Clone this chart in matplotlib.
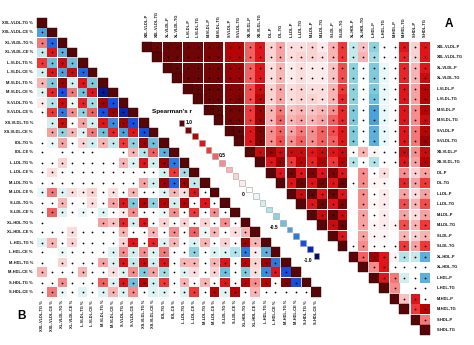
import numpy as np
import matplotlib
matplotlib.use("Agg")
import matplotlib.pyplot as plt
from matplotlib.colors import LinearSegmentedColormap, Normalize
from matplotlib.patches import Rectangle

plt.rcParams["font.family"] = ["Liberation Sans", "DejaVu Sans"]

# panel A: particle concentrations and TG content (upper triangle)
labels_a = [
    "XXL-VLDL-P", "XXL-VLDL-TG", "XL-VLDL-P", "XL-VLDL-TG", "L-VLDL-P", "L-VLDL-TG",
    "M-VLDL-P", "M-VLDL-TG", "S-VLDL-P", "S-VLDL-TG", "XS-VLDL-P", "XS-VLDL-TG",
    "IDL-P", "IDL-TG", "L-LDL-P", "L-LDL-TG", "M-LDL-P", "M-LDL-TG",
    "S-LDL-P", "S-LDL-TG", "XL-HDL-P", "XL-HDL-TG", "L-HDL-P", "L-HDL-TG",
    "M-HDL-P", "M-HDL-TG", "S-HDL-P", "S-HDL-TG",
]

# panel B: relative TG / CE content (lower triangle)
labels_b = [
    "XXL-VLDL-TG %", "XXL-VLDL-CE %", "XL-VLDL-TG %", "XL-VLDL-CE %",
    "L-VLDL-TG %", "L-VLDL-CE %", "M-VLDL-TG %", "M-VLDL-CE %",
    "S-VLDL-TG %", "S-VLDL-CE %", "XS-VLDL-TG %", "XS-VLDL-CE %",
    "IDL-TG %", "IDL-CE %", "L-LDL-TG %", "L-LDL-CE %", "M-LDL-TG %", "M-LDL-CE %",
    "S-LDL-TG %", "S-LDL-CE %", "XL-HDL-TG %", "XL-HDL-CE %", "L-HDL-TG %", "L-HDL-CE %",
    "M-HDL-TG %", "M-HDL-CE %", "S-HDL-TG %", "S-HDL-CE %",
]

# row i holds r for columns i+1 .. 27 ; None = blank cell without marker
rows_a = [
    [0.95, 0.95, 0.95, 0.93, 0.93, 0.9, 0.9, 0.8, 0.8, 0.5, 0.7,
     0.2, 0.35, 0.15, 0.15, 0.2, 0.1, 0.3, 0.6, -0.25, 0.25, -0.4, 0, 0, 0.7, 0.2, 0.7],
    [0.95, 0.95, 0.93, 0.93, 0.9, 0.9, 0.8, 0.8, 0.5, 0.7,
     0.2, 0.35, 0.15, 0.2, 0.2, 0.15, 0.3, 0.6, -0.25, 0.3, -0.35, 0, 0, 0.65, 0.2, 0.7],
    [0.97, 0.95, 0.95, 0.92, 0.92, 0.85, 0.85, 0.5, 0.7,
     0.15, 0.3, 0.1, 0.15, 0.1, 0.1, 0.25, 0.55, -0.4, 0, -0.45, -0.1, 0, 0.65, 0.3, 0.7],
    [0.95, 0.95, 0.92, 0.92, 0.85, 0.85, 0.5, 0.7,
     0.15, 0.3, 0.1, 0.15, 0.1, 0.1, 0.25, 0.55, -0.4, 0, -0.45, -0.1, 0, 0.65, 0.3, 0.75],
    [0.97, 0.95, 0.95, 0.88, 0.88, 0.55, 0.75,
     0.2, 0.35, 0.15, 0.2, 0.15, 0.15, 0.3, 0.6, -0.4, 0, -0.45, -0.1, 0, 0.7, 0.35, 0.8],
    [0.95, 0.95, 0.88, 0.9, 0.55, 0.8,
     0.2, 0.35, 0.15, 0.2, 0.2, 0.15, 0.3, 0.65, -0.4, 0, -0.5, -0.1, 0, 0.7, 0.35, 0.8],
    [0.97, 0.92, 0.92, 0.6, 0.85,
     0.3, 0.45, 0.25, 0.3, 0.25, 0.3, 0.4, 0.65, -0.45, 0, -0.6, -0.1, 0, 0.7, 0.4, 0.8],
    [0.92, 0.92, 0.6, 0.85,
     0.3, 0.5, 0.3, 0.35, 0.3, 0.35, 0.5, 0.65, -0.45, 0, -0.6, -0.1, 0, 0.7, 0.4, 0.75],
    [0.97, 0.7, 0.9,
     0.4, 0.5, 0.35, 0.45, 0.4, 0.5, 0.55, 0.7, -0.45, 0, -0.55, -0.1, 0, 0.7, 0.45, 0.8],
    [0.7, 0.9,
     0.4, 0.55, 0.4, 0.5, 0.4, 0.5, 0.5, 0.7, -0.45, 0, -0.55, -0.1, 0, 0.7, 0.45, 0.85],
    [0.75,
     0.85, 0.75, 0.75, 0.75, 0.7, 0.75, 0.7, 0.75, 0, 0.3, 0.05, 0, 0, 0.75, 0.4, 0.75],
    [0.7, 0.85, 0.6, 0.8, 0.65, 0.8, 0.6, 0.8, -0.3, 0, -0.3, 0, 0, 0.7, 0.35, 0.8],
    [0.7, 0.92, 0.7, 0.9, 0.7, 0.9, 0.7, None, 0.4, 0, 0.15, None, 0.4, 0.2, 0.35],
    [0.7, 0.95, 0.7, 0.92, 0.7, 0.95, 0, 0.4, 0.05, 0.05, None, 0.65, 0.35, 0.6],
    [0.75, 0.97, 0.7, 0.95, 0.7, None, 0.4, 0, 0.1, None, 0.35, 0.15, 0.35],
    [0.7, 0.95, 0.7, 0.9, None, 0.4, 0.05, 0.1, None, 0.55, 0.3, 0.55],
    [0.75, 0.97, 0.75, None, 0.35, 0, 0.1, None, 0.35, 0.15, 0.35],
    [0.75, 0.95, None, 0.35, 0.05, 0.1, 0.05, 0.55, 0.3, 0.6],
    [0.7, None, 0.35, 0.05, 0.05, None, 0.3, 0.2, 0.3],
    [0, 0.4, 0, 0, 0, 0.6, 0.35, 0.6],
    [0.5, 0.85, 0.7, 0.05, -0.3, -0.25, -0.55],
    [0.4, 0.7, 0, 0, 0, 0],
    [0.7, 0.45, -0.2, 0, -0.55],
    [0.4, None, 0, 0],
    [0.25, 0.7, 0],
    [0.6, 0.8],
    [0.45],
    [],
]

# row i holds r for columns 0 .. i-1
rows_b = [
    [],
    [-0.6],
    [0.45, -0.75],
    [-0.25, 0.7, -0.55],
    [0.6, -0.5, 0.75, -0.5],
    [-0.2, 0.7, -0.6, 0.75, -0.75],
    [0.3, -0.45, 0.85, -0.2, 0.7, -0.45],
    [-0.15, 0.65, -0.8, 0.45, -0.5, 0.7, -0.95],
    [0.1, -0.3, 0.75, -0.1, 0.65, -0.35, 0.85, -0.8],
    [0, 0.6, -0.7, 0.4, -0.4, 0.5, -0.8, 0.85, -0.9],
    [None, -0.2, 0.75, 0, 0.35, -0.2, 0.7, -0.65, 0.85, -0.8],
    [None, 0.35, -0.4, 0.3, -0.15, 0.45, -0.5, 0.65, -0.6, 0.7, -0.8],
    [0, -0.1, 0.35, 0, 0.2, -0.2, 0.3, -0.25, 0.6, -0.4, 0.85, -0.5],
    [0, None, 0, 0, 0, 0, None, None, 0, 0.3, -0.3, 0.5, -0.55],
    [0, 0, 0.2, 0, 0, 0, 0, 0, 0.3, -0.15, 0.7, -0.2, 0.85, -0.7],
    [0, 0.15, 0, 0, 0, 0, 0, 0, 0, 0, 0, 0, -0.2, 0.6, -0.35],
    [0, 0, 0, 0, 0, 0, 0, 0, 0, 0, 0.35, -0.2, 0.85, -0.75, 0.85, -0.25],
    [-0.1, 0.45, -0.15, 0.15, 0.1, 0.2, 0, 0.15, 0, 0.3, 0, 0, -0.15, 0.3, 0.15, 0.7, 0],
    [0, 0, 0.3, 0, 0, 0.15, 0, 0.35, 0.7, -0.45, 0.8, -0.4, 0.8, -0.2, 0.8, 0, 0.7, 0],
    [0, 0.5, -0.15, 0, -0.1, 0, -0.15, 0, 0.1, 0.4, 0, 0, -0.1, 0.4, 0, 0.6, 0, 0.4, 0],
    [0, None, None, None, None, None, 0.35, 0.25, 0.65, -0.2, 0.7, 0, 0.2, 0, 0.2, 0,
     0.2, 0, 0.4, 0],
    [0, 0, 0, 0.15, 0, 0, 0, 0, 0.3, 0, 0, 0.3, 0, 0.4, 0, 0.5, -0.1, 0.3, 0, 0.15, 0.3],
    [-0.15, 0.3, 0, 0.2, 0, 0, 0, 0, 0.2, 0.7, 0, 0.65, -0.15, 0.3, 0, -0.15, 0.3, 0,
     0.2, 0, 0.85, 0.3],
    [0, None, -0.1, 0, 0, 0, 0, -0.15, 0.4, -0.2, 0.4, -0.15, 0.45, 0, 0, -0.4, 0,
     -0.15, -0.15, -0.3, -0.7, 0.1, -0.55],
    [0, None, 0.2, 0, 0, 0, 0.35, -0.15, 0.7, -0.25, 0.75, -0.2, 0.7, 0, 0.3, 0.3, 0,
     0.3, 0.7, 0, 0.8, 0.2, 0.85, -0.7],
    [0.3, 0, 0, 0, 0.3, 0, 0, 0.15, -0.15, 0.4, -0.45, 0.35, -0.35, 0, -0.15, 0.15, 0,
     0.2, -0.5, 0, -0.45, 0.15, -0.65, 0.7, -0.8],
    [0, 0, 0.4, 0, 0, 0, 0.5, -0.15, 0.7, -0.5, 0.8, -0.2, 0.6, 0, 0.3, 0, 0.3, 0,
     0.7, 0, 0.8, 0.4, 0.8, 0, 0.9, -0.8],
    [0, 0.45, -0.1, 0, -0.15, 0, -0.15, 0.3, -0.15, 0.4, 0, -0.15, -0.15, 0, -0.15,
     0.6, 0, 0.8, -0.15, 0.8, 0, 0.3, 0, 0, 0, 0, 0],
]

legend_values = [1.0, 0.9, 0.8, 0.7, 0.6, 0.5, 0.4, 0.3, 0.2, 0.1, 0.0,
                 -0.1, -0.2, -0.3, -0.4, -0.5, -0.6, -0.7, -0.8, -0.9, -1.0]
legend_labels = {1.0: "1.0", 0.5: "0.5", 0.0: "0", -0.5: "-0.5", -1.0: "-1.0"}

colors = ["#00106a", "#0a28b8", "#1652e0", "#2b7be0", "#4aa2dc", "#6ec0dc",
          "#90d3df", "#b3e3e8", "#d2eff0", "#eaf7f7", "#ffffff",
          "#fdeaea", "#fbd2d2", "#f8b4b4", "#f58f8f", "#f26464", "#f03838",
          "#e0151a", "#b80505", "#7e0404", "#560606"]
cmap = LinearSegmentedColormap.from_list("spearman", colors)
norm = Normalize(-1, 1)


def centers(n, first, cell, gap):
    return [first + k * cell + (k // 2) * gap for k in range(n)]


def draw_cell(ax, x, y, w, h, v, diag=False):
    ax.add_patch(Rectangle((x - w / 2, y - h / 2), w + 0.15, h + 0.15,
                           fc=cmap(norm(v)), ec="#2a0000" if diag else "none",
                           lw=0.3))


fig = plt.figure(figsize=(4.74, 3.45), dpi=100)
ax = fig.add_axes([0, 0, 1, 1])
ax.set_xlim(0, 474)
ax.set_ylim(345, 0)
ax.axis("off")

lab_kw = dict(fontsize=2.9, fontweight="bold", color="#111111")

# ---- panel A ----
cwa, cha = 9.57, 9.76
xa = centers(28, 147, cwa, 1.5)
ya = centers(28, 47, cha, 1.5)
dots = []
for i, row in enumerate(rows_a):
    draw_cell(ax, xa[i], ya[i], cwa, cha, 1.0, diag=True)
    for k, v in enumerate(row):
        j = i + 1 + k
        if v is None:
            continue
        draw_cell(ax, xa[j], ya[i], cwa, cha, v)
        dots.append((xa[j], ya[i]))
for i, lab in enumerate(labels_a):
    ax.text(437, ya[i], lab, ha="left", va="center", **lab_kw)
    ax.text(xa[i], 37, lab, ha="center", va="bottom", rotation=90, **lab_kw)

# ---- panel B ----
cwb, chb = 9.57, 9.39
xb = centers(28, 42, cwb, 1.2)
yb = centers(28, 23, chb, 1.2)
for i, row in enumerate(rows_b):
    draw_cell(ax, xb[i], yb[i], cwb, chb, 1.0, diag=True)
    for j, v in enumerate(row):
        if v is None:
            continue
        draw_cell(ax, xb[j], yb[i], cwb, chb, v)
        dots.append((xb[j], yb[i]))
for i, lab in enumerate(labels_b):
    ax.text(33, yb[i], lab, ha="right", va="center", **lab_kw)
    ax.text(xb[i], 300, lab, ha="center", va="top", rotation=90, **lab_kw)

dx, dy = zip(*dots)
ax.scatter(dx, dy, s=1.6, c="black", linewidths=0, zorder=5)

# ---- diagonal colour key ----
ax.text(152, 112, "Spearman's r", ha="left", va="center", fontsize=4.6,
        fontweight="bold")
sq = 5.8
for k, v in enumerate(legend_values):
    cx, cy = 181.5 + k * 6.75, 123 + k * 6.65
    ax.add_patch(Rectangle((cx - sq / 2, cy - sq / 2), sq, sq, fc=cmap(norm(v)),
                           ec="#a0a0a0", lw=0.4))
    if v in legend_labels:
        if v > 0.1:
            ax.text(cx + 4, cy - 0.5, legend_labels[v], ha="left", va="center",
                    fontsize=3.6, fontweight="bold")
        else:
            ax.text(cx - 4, cy + 5, legend_labels[v], ha="right", va="center",
                    fontsize=3.6, fontweight="bold")

ax.text(449, 24, "A", ha="center", va="center", fontsize=8.5, fontweight="bold")
ax.text(21.5, 316, "B", ha="center", va="center", fontsize=8.5, fontweight="bold")

fig.savefig("out.png", dpi=100)
